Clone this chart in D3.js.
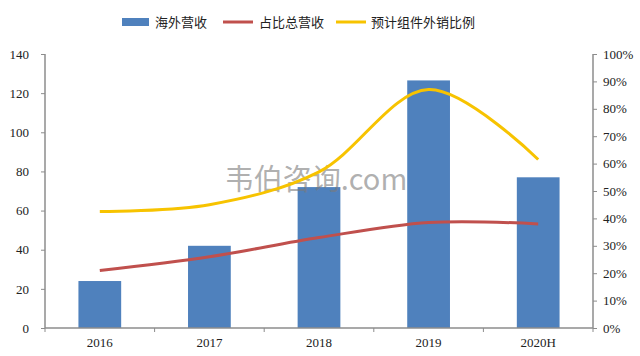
<!DOCTYPE html>
<html><head><meta charset="utf-8">
<script src="https://cdn.jsdelivr.net/npm/d3@7"></script>
<style>html,body{margin:0;padding:0;background:#fff;}</style>
</head><body>
<svg id="c" width="640" height="356"></svg>
<script>
const categories = ["2016","2017","2018","2019","2020H"];
const overseasRevenue = [24, 42, 72, 126.5, 77];
const shareOfRevenue = [0.21, 0.26, 0.33, 0.385, 0.38];
const moduleExportShare = [0.425, 0.45, 0.57, 0.87, 0.615];
const leftTicks = [0,20,40,60,80,100,120,140];
const rightTicks = [0,0.1,0.2,0.3,0.4,0.5,0.6,0.7,0.8,0.9,1.0];
const legendLabels = ["海外营收","占比总营收","预计组件外销比例"];

const svg = d3.select("#c");
const L = 45, R = 593, T = 54, B = 328;
const axisColor = "#8c8c8c";
const serif = "'Liberation Serif','DejaVu Serif',serif";
const cjk = "'Noto Sans CJK SC',sans-serif";

const x = d3.scaleBand().domain(categories).range([L, R]).paddingInner(0.61).paddingOuter(0.305);
const xb = d3.scaleBand().domain(categories).range([L, R]);
const yL = d3.scaleLinear().domain([0,140]).range([B, T]);
const yR = d3.scaleLinear().domain([0,1]).range([B, T]);

// bars
svg.append("g").selectAll("rect").data(categories).join("rect")
  .attr("x", d => x(d)).attr("width", x.bandwidth())
  .attr("y", (d,i) => yL(overseasRevenue[i]))
  .attr("height", (d,i) => B - yL(overseasRevenue[i]))
  .attr("fill", "#4F81BD");

// watermark
svg.append("text").attr("x", 316).attr("y", 190).attr("text-anchor","middle")
  .attr("font-family", cjk).attr("font-size", 29).attr("fill", "#7a7a7a").attr("fill-opacity",0.6)
  .text("韦伯咨询.com");

// lines
const line = arr => d3.line()
  .x((d,i) => xb(categories[i]) + xb.bandwidth()/2)
  .y(d => yR(d))
  .curve(d3.curveCatmullRom.alpha(0.5))(arr);
svg.append("path").attr("d", line(shareOfRevenue)).attr("fill","none")
  .attr("stroke","#C0504D").attr("stroke-width",3);
svg.append("path").attr("d", line(moduleExportShare)).attr("fill","none")
  .attr("stroke","#F7C300").attr("stroke-width",3);

// axes
const gl = svg.append("g").attr("transform",`translate(${L},0)`)
  .call(d3.axisLeft(yL).tickValues(leftTicks).tickSize(4).tickPadding(12));
const gr = svg.append("g").attr("transform",`translate(${R},0)`)
  .call(d3.axisRight(yR).tickValues(rightTicks).tickSize(4).tickPadding(6).tickFormat(d3.format(".0%")));
const gb = svg.append("g").attr("transform",`translate(0,${B})`)
  .call(d3.axisBottom(xb).tickSize(0).tickPadding(10));
// bottom boundary ticks
gb.selectAll("line.bt").data(categories.concat(["end"])).join("line").attr("class","bt")
  .attr("x1",(d,i)=> L + i*xb.bandwidth()).attr("x2",(d,i)=> L + i*xb.bandwidth())
  .attr("y1",0).attr("y2",4).attr("stroke",axisColor);

[gl,gr,gb].forEach(g => {
  g.select(".domain").attr("stroke",axisColor).attr("stroke-width",1.5);
  g.selectAll(".tick line").attr("stroke",axisColor);
  g.selectAll("text").attr("font-family",serif).attr("font-size",13).attr("fill","#222");
});
gb.select(".domain").attr("d",`M${L},0H${R}`);
gl.select(".domain").attr("d",`M0,${T}V${B}`);
gr.select(".domain").attr("d",`M0,${T}V${B}`);

// legend
const lg = svg.append("g").attr("font-family",cjk).attr("font-size",13).attr("fill","#222");
lg.append("rect").attr("x",122).attr("y",18).attr("width",27).attr("height",8).attr("fill","#4F81BD");
lg.append("text").attr("x",155).attr("y",27).text(legendLabels[0]);
lg.append("line").attr("x1",223).attr("x2",253).attr("y1",22).attr("y2",22).attr("stroke","#C0504D").attr("stroke-width",3);
lg.append("text").attr("x",259).attr("y",27).text(legendLabels[1]);
lg.append("line").attr("x1",336).attr("x2",366).attr("y1",22).attr("y2",22).attr("stroke","#F7C300").attr("stroke-width",3);
lg.append("text").attr("x",371).attr("y",27).text(legendLabels[2]);
</script>
</body></html>
